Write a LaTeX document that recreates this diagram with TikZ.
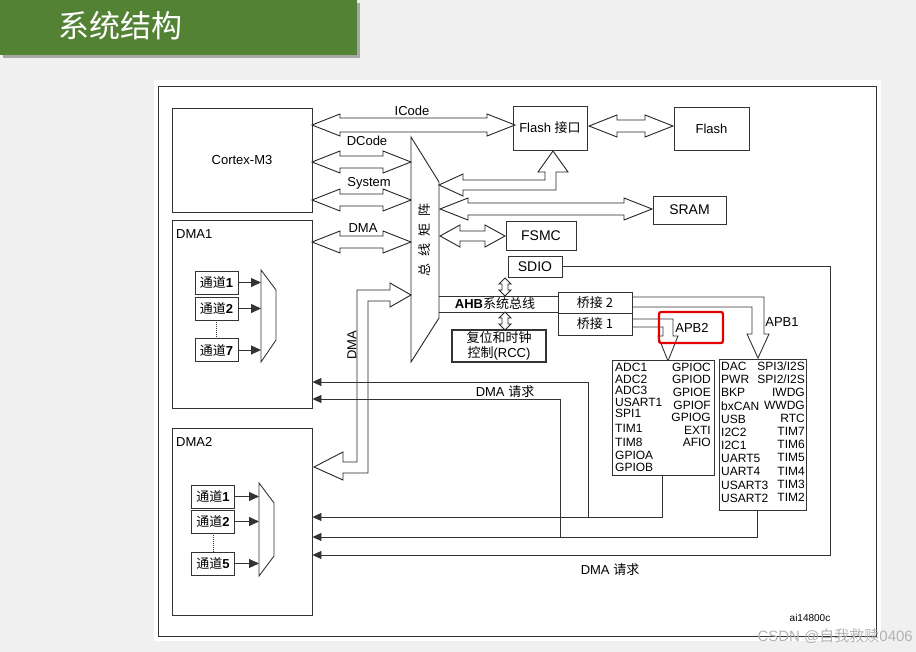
\documentclass[tikz,border=0pt]{standalone}
\usepackage{fontspec}
\setmainfont{Liberation Sans}
\newfontfamily\cjk{Noto Sans CJK SC}
\usetikzlibrary{arrows.meta}
\definecolor{bg}{HTML}{F0F0F0}
\definecolor{ttl}{HTML}{548235}
\newcommand\HA[6]{% x1 x2 y hw HW L : horizontal double hollow arrow
  \draw[hollow] (#1,#3) -- ({#1+#6},{#3-#5}) -- ({#1+#6},{#3-#4}) -- ({#2-#6},{#3-#4}) -- ({#2-#6},{#3-#5}) -- (#2,#3)
   -- ({#2-#6},{#3+#5}) -- ({#2-#6},{#3+#4}) -- ({#1+#6},{#3+#4}) -- ({#1+#6},{#3+#5}) -- cycle;}
\newcommand\VA[6]{% y1 y2 x hw HW L : vertical double hollow arrow
  \draw[hollow] (#3,#1) -- ({#3-#5},{#1+#6}) -- ({#3-#4},{#1+#6}) -- ({#3-#4},{#2-#6}) -- ({#3-#5},{#2-#6}) -- (#3,#2)
   -- ({#3+#5},{#2-#6}) -- ({#3+#4},{#2-#6}) -- ({#3+#4},{#1+#6}) -- ({#3+#5},{#1+#6}) -- cycle;}
\begin{document}
\begin{tikzpicture}[x=1pt,y=-1pt,
  every node/.style={font=\fontsize{13}{15}\selectfont, inner sep=0pt},
  box/.style={draw=black!80, line width=0.9pt, fill=white},
  hollow/.style={draw=black!85, line width=0.9pt, fill=white, line join=miter},
  ln/.style={draw=black!80, line width=0.9pt},
  req/.style={ln, -{Triangle[length=9pt,width=8pt]}},
  ch/.style={box, minimum width=43pt, minimum height=23pt, font=\fontsize{13}{14}\selectfont},
  lst/.style={font=\fontsize{12}{13}\selectfont, anchor=west},
  lsr/.style={font=\fontsize{12}{13}\selectfont, anchor=east}]
\useasboundingbox (0,0) rectangle (916,652);
\fill[bg] (0,0) rectangle (916,652);
% title
\fill[black!35] (3,3) rectangle (360,58);
\fill[ttl] (0,0) rectangle (357,55);
\node[text=white, font=\cjk\fontsize{31}{33}\selectfont, anchor=west] (title) at (58,26) {系统结构};
% panel
\fill[white] (154,80) rectangle (881,641);
\draw[black!80, line width=1pt] (158,87) rectangle (876,636);
% main boxes
\node[box, minimum width=140pt, minimum height=104pt] (cpu) at (242,160) {Cortex-M3};
\node[box, minimum width=140pt, minimum height=188pt] (dma1) at (242,314) {};
\node[anchor=north west] at (176,229) {DMA1};
\node[box, minimum width=140pt, minimum height=187pt] (dma2) at (242,521.5) {};
\node[anchor=north west] at (176,437) {DMA2};
% DMA1 channels
\node[ch] (a1) at (216.5,282.5) {{\cjk 通道}\textbf{1}};
\node[ch] (a2) at (216.5,308.5) {{\cjk 通道}\textbf{2}};
\node[ch] (a7) at (216.5,350) {{\cjk 通道}\textbf{7}};
\draw[ln, densely dotted] (a2.south) -- (a7.north);
\draw[ln] (261,270) -- (276,290) -- (276,340) -- (261,362) -- cycle;
\foreach \n in {a1,a2,a7} \draw[ln, -{Triangle[length=10pt,width=9pt]}] (\n.east) -- (\n.east -| 261,0);
% DMA2 channels
\node[ch] (b1) at (213,496.5) {{\cjk 通道}\textbf{1}};
\node[ch] (b2) at (213,521.5) {{\cjk 通道}\textbf{2}};
\node[ch] (b5) at (213,563.5) {{\cjk 通道}\textbf{5}};
\draw[ln, densely dotted] (b2.south) -- (b5.north);
\draw[ln] (259,483) -- (274,503) -- (274,556) -- (259,576) -- cycle;
\foreach \n in {b1,b2,b5} \draw[ln, -{Triangle[length=10pt,width=9pt]}] (\n.east) -- (\n.east -| 259,0);
% bus matrix
\draw[hollow] (411,137) -- (439,182) -- (439,318) -- (411,362) -- cycle;
\node[font=\cjk\fontsize{13}{14}\selectfont, rotate=90] (bm) at (425,240) {总\hspace{7pt}线\hspace{7pt}矩\hspace{7pt}阵};
% other boxes
\node[box, minimum width=74pt, minimum height=44pt] (fi) at (550,128) {Flash {\cjk 接口}};
\node[box, minimum width=75pt, minimum height=43pt] (fl) at (711.5,128.5) {Flash};
\node[box, minimum width=73pt, minimum height=28pt, font=\fontsize{14}{15}\selectfont] (sram) at (689.5,210) {SRAM};
\node[box, minimum width=70pt, minimum height=29pt, font=\fontsize{14}{15}\selectfont] (fsmc) at (541,235.5) {FSMC};
\node[box, minimum width=54pt, minimum height=21pt, font=\fontsize{14}{15}\selectfont] (sdio) at (535,266.5) {SDIO};
\node[box, minimum width=74pt, minimum height=21pt, font=\cjk\fontsize{13}{14}\selectfont] (br2) at (595,302.5) {桥接 2};
\node[box, minimum width=74pt, minimum height=22pt, font=\cjk\fontsize{13}{14}\selectfont] (br1) at (595,324) {桥接 1};
\node[box, line width=1.8pt, minimum width=94pt, minimum height=32pt, align=center, font=\fontsize{13}{15}\selectfont] (rcc) at (499,346) {{\cjk 复位和时钟}\\{\cjk 控制}(RCC)};
% hollow arrows
\HA{312}{515}{125}{7}{11}{28}
\node (icode) at (412,111) {ICode};
\HA{589}{673}{126}{6}{11}{28}
\HA{312}{411}{162}{6}{11}{28}
\node (dcode) at (367,141) {DCode};
\HA{312}{411}{200}{6}{11}{28}
\node (sys) at (369,183) {System};
\HA{312}{411}{242}{6}{11}{28}
\node (dmal) at (363,228) {DMA};
\HA{440}{652}{209}{6}{11}{28}
\HA{440}{505}{236}{5}{11}{20}
\VA{278}{296}{505}{3}{6}{6}
\VA{312}{330}{505}{3}{6}{6}
% Flash interface L arrow
\draw[hollow] (439,185) -- (463,174) -- (463,180) -- (545,180) -- (545,172) -- (538,172) -- (553,151) -- (568,172)
  -- (556,172) -- (556,190) -- (463,190) -- (463,196) -- cycle;
% DMA bent arrow
\draw[hollow] (411,295) -- (390,283) -- (390,290) -- (357,290) -- (357,462) -- (343,462) -- (343,452) -- (314,467)
  -- (343,480) -- (343,473) -- (368,473) -- (368,301) -- (390,301) -- (390,307) -- cycle;
\node[rotate=90] (dmav) at (352,345) {DMA};
% AHB bus
\draw[ln] (439,296) -- (br2.west |- 0,296);
\draw[ln] (439,312) -- (br2.west |- 0,312);
\node[fill=white, inner sep=0.5pt, font=\fontsize{13}{14}\selectfont] (ahb) at (495,304) {\textbf{AHB}{\cjk 系统总线}};
% APB1
\draw[ln, line join=miter] (632,297) -| (764,334) -- (769,334) -- (758,358) -- (747,334) -- (752,334) |- (632,307);
\node (apb1) at (782,322) {APB1};
% APB2
\draw[ln, line join=miter] (632,319) -| (673,336) -- (678,336) -- (668,361) -- (658,336) -- (663,336) |- (632,327);
\node[fill=white, inner sep=1pt] (apb2) at (692,328) {APB2};
\draw[red!90!black, line width=2.2pt, rounded corners=2pt] (659,312) rectangle (723,343);
% peripheral boxes
\node[box, minimum width=102pt, minimum height=115pt] (p2) at (663,417.5) {};
\foreach \t [count=\i] in {ADC1,ADC2,ADC3,USART1,SPI1} \node[lst] at (615,{356+11.5*\i}) {\t};
\node[lst] at (615,428) {TIM1}; \node[lst] at (615,442) {TIM8};
\node[lst] at (615,455) {GPIOA}; \node[lst] at (615,467) {GPIOB};
\foreach \t [count=\i] in {GPIOC,GPIOD,GPIOE,GPIOF,GPIOG,EXTI,AFIO} \node[lsr] at (711,{354.5+12.6*\i}) {\t};
\node[box, minimum width=87pt, minimum height=151pt] (p1) at (762.5,434.5) {};
\foreach \t [count=\i] in {DAC,PWR,BKP,bxCAN,USB,I2C2,I2C1,UART5,UART4,USART3,USART2} \node[lst] at (721,{353+13.2*\i}) {\t};
\foreach \t [count=\i] in {SPI3/I2S,SPI2/I2S,IWDG,WWDG,RTC,TIM7,TIM6,TIM5,TIM4,TIM3,TIM2} \node[lsr] at (805,{353+13.1*\i}) {\t};
% DMA request lines
\coordinate (r1) at (588,517);
\coordinate (r2) at (560,537);
\draw[req] (662,475) |- (dma2.east |- 0,517);
\draw[req] (757,510) |- (dma2.east |- 0,537);
\draw[req] (r1) |- (dma1.east |- 0,382);
\draw[req] (r2) |- (dma1.east |- 0,399);
\draw[req] (sdio.east) -| (830,555) -- (dma2.east |- 0,555);
\node (rq1) at (505,392) {DMA {\cjk 请求}};
\node (rq2) at (610,570) {DMA {\cjk 请求}};
\node[font=\fontsize{10}{12}\selectfont] (ai) at (810,618) {ai14800c};
\node[text=black!30, font=\fontsize{15}{17}\selectfont, anchor=east] (wm) at (913,636) {CSDN @{\cjk 自我救赎}0406};
\end{tikzpicture}
\end{document}
